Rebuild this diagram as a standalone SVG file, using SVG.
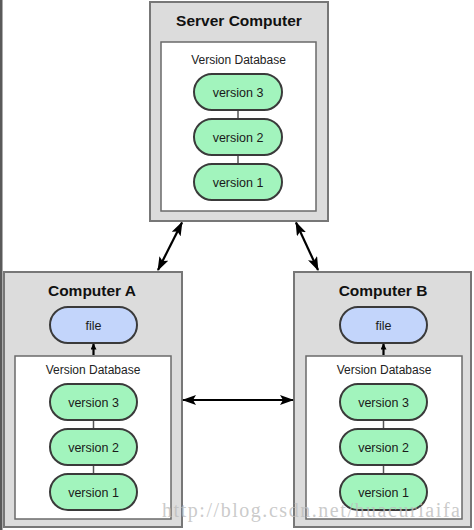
<svg xmlns="http://www.w3.org/2000/svg" width="474" height="530" viewBox="0 0 474 530">
<defs>
<style>
.outer{fill:#dcdcdc;stroke:#777;stroke-width:2}
.inner{fill:#ffffff;stroke:#6a6a6a;stroke-width:1.5}
.ver{fill:#a2f4bd;stroke:#3a3a3a;stroke-width:2}
.file{fill:#c3d5fb;stroke:#3a3a3a;stroke-width:2}
.title{font-family:"Liberation Sans",Arial,sans-serif;font-weight:bold;font-size:15.5px;fill:#111;text-anchor:middle}
.db{font-family:"Liberation Sans",Arial,sans-serif;font-size:12px;fill:#222;text-anchor:middle}
.lbl{font-family:"Liberation Sans",Arial,sans-serif;font-size:12.5px;fill:#1a1a1a;text-anchor:middle}
.link{stroke:#555;stroke-width:1.5}
.arr{stroke:#000;stroke-width:2.2;fill:none}
.wm{font-family:"Liberation Serif","Times New Roman",serif;font-size:20px;fill:#bdbdbd;fill-opacity:0.8}
</style>
<marker id="ah" viewBox="0 0 14 10" refX="13" refY="5" markerWidth="14" markerHeight="10" orient="auto-start-reverse" markerUnits="userSpaceOnUse">
<path d="M0,0 L14,5 L0,10 L3,5 z" fill="#000"/>
</marker>
<marker id="sh" viewBox="0 0 10 10" refX="9" refY="5" markerWidth="7" markerHeight="6" orient="auto" markerUnits="userSpaceOnUse">
<path d="M0,0 L10,5 L0,10 z" fill="#000"/>
</marker>
</defs>
<rect x="0" y="0" width="474" height="530" fill="#ffffff"/>
<rect x="0" y="0" width="2.5" height="530" fill="#5a5a5a"/>

<g id="server">
<rect class="outer" x="150" y="2" width="178" height="219"/>
<text class="title" x="239" y="26">Server Computer</text>
<rect class="inner" x="161" y="42" width="155" height="169"/>
<text class="db" x="238.5" y="64">Version Database</text>
<line class="link" x1="238" y1="110" x2="238" y2="119"/>
<line class="link" x1="238" y1="155" x2="238" y2="164"/>
<rect class="ver" x="194" y="74" width="88" height="36" rx="18"/>
<text class="lbl" x="238" y="96.5">version 3</text>
<rect class="ver" x="194" y="119" width="88" height="36" rx="18"/>
<text class="lbl" x="238" y="141.5">version 2</text>
<rect class="ver" x="194" y="164" width="88" height="36" rx="18"/>
<text class="lbl" x="238" y="186.5">version 1</text>
</g>

<g id="computerA">
<rect class="outer" x="4" y="272" width="178" height="255"/>
<text class="title" x="92" y="296">Computer A</text>
<rect class="file" x="50" y="307" width="87" height="36" rx="18"/>
<text class="lbl" x="93.5" y="329.5">file</text>
<rect class="inner" x="15" y="356" width="156" height="163"/>
<text class="db" x="93" y="374">Version Database</text>
<line class="link" x1="93.5" y1="420" x2="93.5" y2="429"/>
<line class="link" x1="93.5" y1="465" x2="93.5" y2="474"/>
<rect class="ver" x="50" y="384" width="87" height="36" rx="18"/>
<text class="lbl" x="93.5" y="406.5">version 3</text>
<rect class="ver" x="50" y="429" width="87" height="36" rx="18"/>
<text class="lbl" x="93.5" y="451.5">version 2</text>
<rect class="ver" x="50" y="474" width="87" height="36" rx="18"/>
<text class="lbl" x="93.5" y="496.5">version 1</text>
</g>

<g id="computerB">
<rect class="outer" x="294" y="272" width="177" height="255"/>
<text class="title" x="383" y="296">Computer B</text>
<rect class="file" x="340" y="307" width="87" height="36" rx="18"/>
<text class="lbl" x="383.5" y="329.5">file</text>
<rect class="inner" x="306" y="356" width="156" height="163"/>
<text class="db" x="384" y="374">Version Database</text>
<line class="link" x1="383.5" y1="420" x2="383.5" y2="429"/>
<line class="link" x1="383.5" y1="465" x2="383.5" y2="474"/>
<rect class="ver" x="340" y="384" width="87" height="36" rx="18"/>
<text class="lbl" x="383.5" y="406.5">version 3</text>
<rect class="ver" x="340" y="429" width="87" height="36" rx="18"/>
<text class="lbl" x="383.5" y="451.5">version 2</text>
<rect class="ver" x="340" y="474" width="87" height="36" rx="18"/>
<text class="lbl" x="383.5" y="496.5">version 1</text>
</g>

<g id="connectors">
<line class="arr" x1="93.5" y1="355" x2="93.5" y2="344" stroke-width="1.5" marker-end="url(#sh)"/>
<line class="arr" x1="383.5" y1="355" x2="383.5" y2="344" stroke-width="1.5" marker-end="url(#sh)"/>
<line class="arr" x1="182" y1="222.5" x2="158" y2="270" marker-start="url(#ah)" marker-end="url(#ah)"/>
<line class="arr" x1="296" y1="222.5" x2="318" y2="270" marker-start="url(#ah)" marker-end="url(#ah)"/>
<line class="arr" x1="183" y1="400" x2="293" y2="400" marker-start="url(#ah)" marker-end="url(#ah)"/>
</g>

<text class="wm" x="162" y="517" textLength="298" lengthAdjust="spacing">http://blog.csdn.net/huacuriaifa</text>
</svg>
